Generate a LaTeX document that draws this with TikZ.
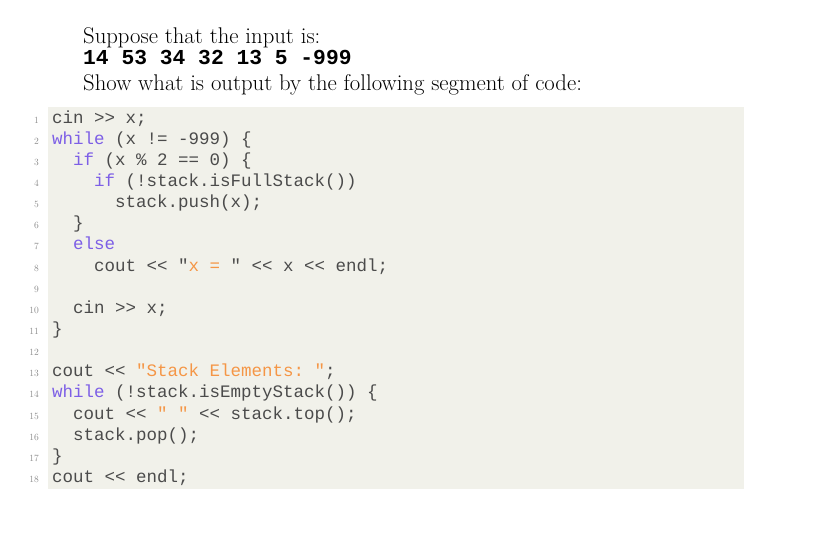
\documentclass[tikz,border=0pt]{standalone}
\usepackage{fontspec}
\setmonofont{Liberation Mono}
\definecolor{bgc}{RGB}{241,241,234}
\definecolor{txt}{RGB}{75,75,75}
\definecolor{kw}{RGB}{125,95,230}
\definecolor{str}{RGB}{245,150,70}
\definecolor{num}{RGB}{140,140,140}
\newcommand{\K}[1]{\textcolor{kw}{#1}}
\newcommand{\St}[1]{\textcolor{str}{#1}}
\begin{document}
\begin{tikzpicture}[x=1pt,y=-1pt,
  hd/.style={anchor=base west,inner sep=0pt,font=\fontsize{22.7}{26}\selectfont},
  cd/.style={anchor=base west,inner sep=0pt,text=txt,font=\ttfamily\fontsize{17.5}{20}\selectfont},
  ln/.style={anchor=base east,inner sep=0pt,text=num,font=\fontsize{9.5}{11}\selectfont}]
\useasboundingbox (0,0) rectangle (830,543);
\fill[bgc] (48,107) rectangle (744,489);
\node[hd] (h1) at (83,44) {Suppose that the input is:};
\node[hd,font=\ttfamily\bfseries\fontsize{21.3}{24}\selectfont] (h2) at (83,64) {14 53 34 32 13 5 -999};
\node[hd] (h3) at (83,90) {Show what is output by the following segment of code:};
\foreach \i in {1,...,18}{
  \node[ln] (n\i) at (39,{123+(\i-1)*21.15}) {\i};
}
\def\Y#1{{123+(#1-1)*21.15}}
\node[cd] (c1) at (52,\Y1) {cin >> x;};
\node[cd] (c2) at (52,\Y2) {\K{while} (x != -999) \{};
\node[cd] (c3) at (73,\Y3) {\K{if} (x \% 2 == 0) \{};
\node[cd] (c4) at (94,\Y4) {\K{if} (!stack.isFullStack())};
\node[cd] (c5) at (115,\Y5) {stack.push(x);};
\node[cd] (c6) at (73,\Y6) {\}};
\node[cd] (c7) at (73,\Y7) {\K{else}};
\node[cd] (c8) at (94,\Y8) {cout << "\St{x = }" << x << endl;};
\node[cd] (c10) at (73,\Y{10}) {cin >> x;};
\node[cd] (c11) at (52,\Y{11}) {\}};
\node[cd] (c13) at (52,\Y{13}) {cout << \St{"Stack Elements: "};};
\node[cd] (c14) at (52,\Y{14}) {\K{while} (!stack.isEmptyStack()) \{};
\node[cd] (c15) at (73,\Y{15}) {cout << \St{"\ "} << stack.top();};
\node[cd] (c16) at (73,\Y{16}) {stack.pop();};
\node[cd] (c17) at (52,\Y{17}) {\}};
\node[cd] (c18) at (52,\Y{18}) {cout << endl;};
\end{tikzpicture}
\end{document}
